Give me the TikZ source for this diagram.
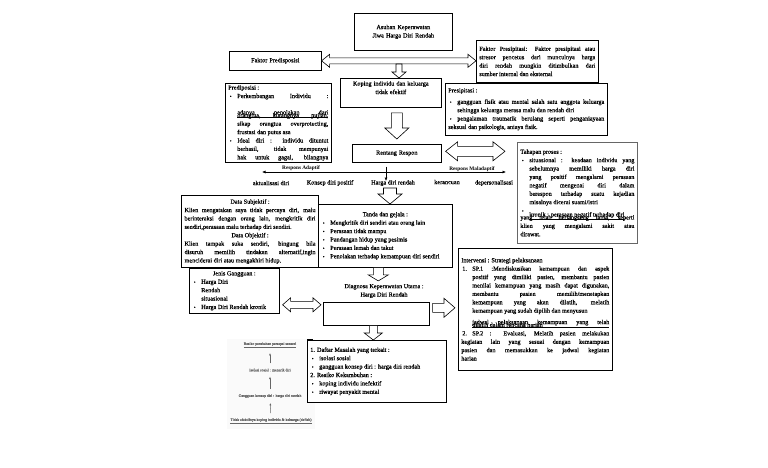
\documentclass[tikz,border=0pt]{standalone}
\usepackage{fontspec}
\setmainfont{Liberation Serif}[UprightFeatures={FakeBold=0.7}]
\usetikzlibrary{calc,arrows.meta}
\newcommand{\fs}{\fontsize{6.2}{8.4}\selectfont\parindent=0pt\tolerance=9999\hbadness=10000\hfuzz=3pt\hyphenpenalty=10000}
\newcommand{\bul}[1][0pt]{\par\noindent\hangindent=9pt\hangafter=1\hbox to 9pt{\hskip1.5pt\raisebox{#1}{\fontsize{5}{5}\selectfont\textbullet}\hfil}}
\newcommand{\nmb}[1]{\par\noindent\hangindent=11pt\hangafter=1\hbox to 11pt{\hskip1pt #1\hfil}}
\newcommand{\ind}[1][9pt]{\par\noindent\hangindent=#1\hangafter=0 }
\newcommand{\spr}[2][9pt]{\hbox to \dimexpr\hsize-#1\relax{#2}}
% hollow block arrows: from, to, shaft, head, head length
\newcommand{\varr}[5]{\draw[blk] let \p1=(#1), \p2=(#2) in
  (\x1-#3/2,\y1) -- (\x1-#3/2,\y2+#5) -- (\x1-#4/2,\y2+#5) -- (\x1,\y2)
  -- (\x1+#4/2,\y2+#5) -- (\x1+#3/2,\y2+#5) -- (\x1+#3/2,\y1) -- cycle;}
\newcommand{\harr}[5]{\draw[blk] let \p1=(#1), \p2=(#2) in
  (\x1,\y1-#3/2) -- (\x2-#5,\y1-#3/2) -- (\x2-#5,\y1-#4/2) -- (\x2,\y1)
  -- (\x2-#5,\y1+#4/2) -- (\x2-#5,\y1+#3/2) -- (\x1,\y1+#3/2) -- cycle;}
\newcommand{\dharr}[5]{\draw[blk] let \p1=(#1), \p2=(#2) in
  (\x1,\y1) -- (\x1+#5,\y1+#4/2) -- (\x1+#5,\y1+#3/2) -- (\x2-#5,\y1+#3/2)
  -- (\x2-#5,\y1+#4/2) -- (\x2,\y1) -- (\x2-#5,\y1-#4/2) -- (\x2-#5,\y1-#3/2)
  -- (\x1+#5,\y1-#3/2) -- (\x1+#5,\y1-#4/2) -- cycle;}

\begin{document}
\begin{tikzpicture}[x=1pt,y=-1pt,
  box/.style={draw, line width=0.6pt, anchor=north west, inner xsep=3pt, inner ysep=2pt, align=justify, font=\fs},
  blk/.style={draw, fill=white, line width=0.6pt},
  lbl/.style={font=\fs, inner sep=0pt},
  resp/.style={font={\fontsize{5.3}{5.5}\selectfont\bfseries}, inner sep=0.5pt, anchor=south},
  faded/.style={font={\fontsize{3.8}{4}\selectfont}, text=black!60, inner sep=0pt},
  thin/.style={line width=0.6pt, -{Latex[length=3.5pt,width=3pt]}}]

\useasboundingbox (0,0) rectangle (768,467);

% top row
\node[box, text width=92pt, minimum height=37pt, align=center] (title) at (354,13) {Asuhan Keperawatan\\Jiwa Harga Diri Rendah};
\node[box, text width=86pt, minimum height=19pt, align=center] (predis) at (229,51) {Faktor Predisposisi};
\node[box, text width=116pt, minimum height=42pt] (presip) at (476,40) {Faktor Presipitasi: Faktor presipitasi atau\linebreak stresor pencetus dari munculnya harga\linebreak diri rendah mungkin ditimbulkan dari\linebreak sumber internal dan eksternal};

\node[box, text width=95pt, align=center, inner ysep=3pt, text depth=19pt] (koping) at (340,78) {Koping individu dan keluarga\\tidak efektif};
\node[box, text width=156pt, minimum height=52pt] (presipitasi) at (445,83) {Presipitasi :\par\vspace{3pt}\bul gangguan fisik atau mental salah satu anggota keluarga\linebreak sehingga keluarga merasa malu dan rendah diri\bul pengalaman traumatik berulang seperti penganiayaan\linebreak seksual dan psikologis, aniaya fisik.};
\node[box, text width=100pt, minimum height=78pt] (predisposisi) at (225,83) {Prediposisi :\bul Perkembangan\hfill Individu\hfill :\par\vspace{8pt}\ind\underline{\spr{adanya\hfill penolakan\hfill dari}}\par\vspace{-5.5pt}\ind\spr{orangtua,\hfill kurangnya\hfill pujian,}\ind sikap orangtua overprotecting,\linebreak frustasi dan putus asa\bul Ideal diri : individu dituntut\linebreak berhasil, tidak mempunyai\linebreak hak untuk gagal, bilangnya\parfillskip=0pt\par};

% rentang respon
\node[box, text width=83pt, minimum height=18pt, align=center] (rentang) at (352,144) {Rentang Respon};
\node[box, draw=black!60, line width=0.8pt, text width=114pt, minimum height=101pt] (tahapan) at (517,142) {Tahapan proses :\bul situasional : keadaan individu yang\linebreak sebelumnya memiliki harga diri\linebreak yang positif mengalami perasaan\linebreak negatif mengenai diri dalam\linebreak berespon terhadap suatu kejadian\linebreak misalnya dicerai suami/istri\par\vspace{4pt}\bul[4pt]\underline{kronik : perasaan negatif terhadap diri}\par\vspace{-5.5pt}\ind yang telah berlangsung lama, seperti\linebreak klien yang mengalami sakit atau\linebreak dirawat.};

\coordinate (rl) at (262,172);
\coordinate (rr) at (506,172);
\draw[thin, {Latex[length=3.5pt,width=3pt]}-{Latex[length=3.5pt,width=3pt]}] (rl) -- (rr);
\node[resp] (adaptif) at (301,171.5) {Respons Adaptif};
\node[resp] (maladaptif) at (472,172.5) {Respons Maladaptif};

\node[lbl] (akt) at (271,183) {aktualisasi diri};
\node[lbl] (kdp) at (330,183) {Konsep diri positif};
\node[lbl] (hdr) at (393,183) {Harga diri rendah};
\node[lbl] (ker) at (447,182) {kerancuan};
\node[lbl] (dep) at (494,183) {depersonalisasi};
\coordinate (rd) at (386,181);
\draw[thin] (rentang.south -| rd) ++(0,4) -- (rd);

% data, tanda, jenis
\node[box, text width=128pt, minimum height=63pt] (tanda) at (318,204) {{\centering Tanda dan gejala :\par}\bul Mengkritik diri sendiri atau orang lain\bul Perasaan tidak mampu\bul Pandangan hidup yang pesimis\bul Perasaan lemah dan takut\bul Penolakan terhadap kemampuan diri sendiri};
\draw[line width=1.2pt] (tanda.south west) -- (tanda.south east);
\node[box, line width=1.1pt, fill=white, text width=131pt, minimum height=72pt] (data) at (181,195) {{\centering Data Subjektif :\par}Klien mengatakan saya tidak percaya diri, malu\linebreak berinteraksi dengan orang lain, mengkritik diri\linebreak sendiri,perasaan malu terhadap diri sendiri.\par{\centering Data Objektif :\par}Klien tampak suka sendiri, bingung bila\linebreak disuruh memilih tindakan alternatif,ingin\linebreak menciderai diri atau mengakhiri hidup.};
\node[box, inner ysep=1pt, text width=84pt, minimum height=45pt] (jenis) at (189,268) {{\centering Jenis Gangguan :\par}\bul Harga Diri\newline Rendah\newline situasional\bul Harga Diri Rendah kronik};

% pasted tree
\node[fill=black!2, minimum width=88pt, minimum height=90pt, anchor=north west, inner sep=0pt] (tree) at (227,339) {};
\node[faded] (f1) at (270,345) {\underline{Resiko perubahan persepsi sensori}};
\node[faded] (f2) at (270,370) {Isolasi sosial : menarik diri};
\node[faded] (f3) at (270,396) {Gangguan konsep diri : harga diri rendah};
\node[faded] (f4) at (271,421) {\underline{Tidak efektifnya koping individu \& keluarga (defisit)}};
\foreach \a/\b in {f2/f1, f3/f2, f4/f3}
  \draw[black!60, line width=0.5pt, -{Latex[length=2.5pt,width=2pt]}, shorten <=5pt, shorten >=5pt] (\a) -- (\b);

% diagnosa
\node[lbl, align=center] (diagtxt) at (384,291) {Diagnosa Keperawatan Utama :\\Harga Diri Rendah};
\node[box, text width=100pt, minimum height=23pt] (diagbox) at (323,302) {};
\node[box, fill=white, text width=133pt, minimum height=62pt] (daftar) at (307,340) {1. Daftar Masalah yang terkait :\bul isolasi sosial\bul gangguan konsep diri : harga diri rendah\par 2. Resiko Kekambuhan :\bul koping individu inefektif\bul riwayat penyakit mental};
\draw[line width=1.6pt] (daftar.north west) -- ++(6,0);
\node[box, text width=148pt, minimum height=122pt] (interv) at (458,248) {Intervensi : Strategi pelaksanaan\nmb{1.}SP.1 :Mendiskusikan kemampuan dan aspek\linebreak positif yang dimiliki pasien, membantu pasien\linebreak menilai kemampuan yang masih dapat digunakan,\linebreak membantu pasien memilih/menetapkan\linebreak kemampuan yang akan dilatih, melatih\linebreak kemampuan yang sudah dipilih dan menyusun\par\vspace{3pt}\ind[11pt]\underline{\spr[11pt]{jadwal\hfill pelaksanaan\hfill kemampuan\hfill yang\hfill telah}}\par\vspace{-5.5pt}\ind[11pt]dilatih dalam rencana harian\nmb{2.}SP.2 : Evaluasi, Melatih pasien melakukan\linebreak kegiatan lain yang sesuai dengan kemampuan\linebreak pasien dan memasukkan ke jadwal kegiatan\linebreak harian};

% block arrows
\coordinate (kt) at (399,64);
\dharr{predis.east}{presip.west}{6}{13}{8}
\varr{kt}{koping.north}{6}{14}{6}
\varr{[shift={(6,5)}]koping.south}{[shift={(0,-5)}]rentang.north}{11}{24}{11}
\dharr{[shift={(4,-2)}]rentang.east}{[xshift=-12pt]tahapan.west}{10}{19}{12}
\varr{[shift={(-3,2)}]hdr.south}{tanda.north}{13}{24}{10}
\varr{[xshift=-7pt]tanda.south}{[shift={(0,-3)}]diagtxt.north}{10}{20}{6}
\dharr{[shift={(3,14)}]jenis.east}{[xshift=-2pt]diagbox.west}{7}{14}{8}
\harr{[shift={(3,-6)}]diagbox.east}{[xshift=-3pt]interv.west}{9}{19}{11}
\varr{[xshift=-3pt]diagbox.south}{daftar.north}{8}{18}{7}
\end{tikzpicture}
\end{document}
